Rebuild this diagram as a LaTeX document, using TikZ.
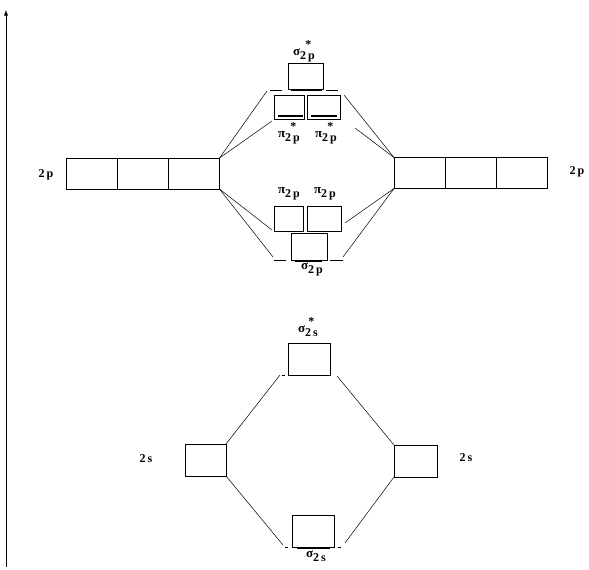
\documentclass[tikz,border=0pt]{standalone}
\usepackage{fontspec}
\setmainfont{Liberation Serif}
\usetikzlibrary{positioning,arrows}

% orbital label: letter, subscript, star
\newcommand{\molab}[3]{{\fontsize{13}{14}\selectfont #1}\raisebox{-.7ex}{2\,#2}\llap{\raisebox{1.3ex}{#3}\hspace{.3em}}}

\begin{document}
\begin{tikzpicture}
[x=1pt,y=-1pt,line width=.7pt,
   mobox/.style 2 args={draw,minimum width=#1pt,minimum height=#2pt,inner sep=0pt,outer sep=0pt},
   pbox/.style={mobox={51}{31}},
   lvl/.style={line width=1.5pt},
   lbl/.style={font=\fontsize{12}{14}\selectfont\bfseries,inner sep=0pt},
   conn/.style={line width=.5pt}]
\useasboundingbox (0,0) rectangle (589,570);

% energy axis
\coordinate (ax0) at (6,567);
\coordinate (ax1) at (6,10);
\draw[-latex,line width=.9pt] (ax0) -- (ax1);

% 2p atomic orbitals
\node[pbox] (L1) at (92,173.5) {};
\node[pbox,right=0pt of L1] (L2) {};
\node[pbox,right=0pt of L2] (L3) {};
\node[pbox] (R1) at (419.5,173) {};
\node[pbox,right=0pt of R1] (R2) {};
\node[pbox,right=0pt of R2] (R3) {};
\node[lbl] (l2pL) at (46,175) {2\,p};
\node[lbl] (l2pR) at (577,172) {2\,p};

% 2p molecular orbitals
\node[mobox={35}{26}] (s2ps) at (305.5,76) {};
\node[mobox={30}{24}] (p2psL) at (289,107) {};
\node[mobox={33}{24}] (p2psR) at (323.5,107) {};
\node[mobox={29}{25}] (p2pL) at (288.5,218.5) {};
\node[mobox={34}{25}] (p2pR) at (324,218.5) {};
\node[mobox={36}{27}] (s2p) at (309,246.5) {};

\node[lbl] (ls2ps) at (304,51) {\molab{σ}{p}{*}};
\node[lbl] (lp2psL) at (289,133) {\molab{π}{p}{*}};
\node[lbl] (lp2psR) at (326,133) {\molab{π}{p}{*}};
\node[lbl] (lp2pL) at (289,193) {\molab{π}{p}{}};
\node[lbl] (lp2pR) at (325,193) {\molab{π}{p}{}};
\node[lbl] (ls2p) at (312,269) {\molab{σ}{p}{}};

% levels
\draw (270,90) -- (282,90) (326,90) -- (338,90);
\draw[lvl] (291,90) -- (322,90);
\draw[lvl] (278,116) -- (303,116) (311,116) -- (337,116);
\draw (274,260) -- (286,260) (330,260) -- (343,260);
\draw[lvl] (295,261) -- (322,261);

% connectors 2p
\coordinate (a1) at (267,91);
\coordinate (a2) at (272,121);
\coordinate (b1) at (344,95);
\coordinate (b2) at (355,128);
\coordinate (c1) at (272,230);
\coordinate (c2) at (273,257);
\coordinate (d1) at (345,223);
\coordinate (d2) at (343,257);
\draw[conn] (L3.north east) -- (a1);
\draw[conn] (L3.north east) -- (a2);
\draw[conn] (R1.north west) -- (b1);
\draw[conn] (R1.north west) -- (b2);
\draw[conn] (L3.south east) -- (c1);
\draw[conn] (L3.south east) -- (c2);
\draw[conn] (R1.south west) -- (d1);
\draw[conn] (R1.south west) -- (d2);

% 2s orbitals
\node[mobox={41}{32}] (L2s) at (205.5,460) {};
\node[mobox={43}{32}] (R2s) at (415.5,461) {};
\node[mobox={42}{32}] (s2ss) at (309,359) {};
\node[mobox={42}{32}] (s2s) at (313,531) {};
\node[lbl] (l2sL) at (146,459) {2\,s};
\node[lbl] (l2sR) at (466,458) {2\,s};
\node[lbl] (ls2ss) at (308,327) {\molab{σ}{s}{*}};
\node[lbl] (ls2s) at (316,556) {\molab{σ}{s}{}};

\draw (282,375) -- (285,375);
\draw (285,547) -- (288,547) (338,547) -- (341,547);
\draw[lvl] (297,548) -- (330,548);

% connectors 2s
\coordinate (e1) at (280,375);
\coordinate (e2) at (283,545);
\coordinate (f1) at (337,376);
\coordinate (f2) at (345,543);
\draw[conn] (L2s.north east) -- (e1);
\draw[conn] (L2s.south east) -- (e2);
\draw[conn] (R2s.north west) -- (f1);
\draw[conn] (R2s.south west) -- (f2);
\end{tikzpicture}
\end{document}
